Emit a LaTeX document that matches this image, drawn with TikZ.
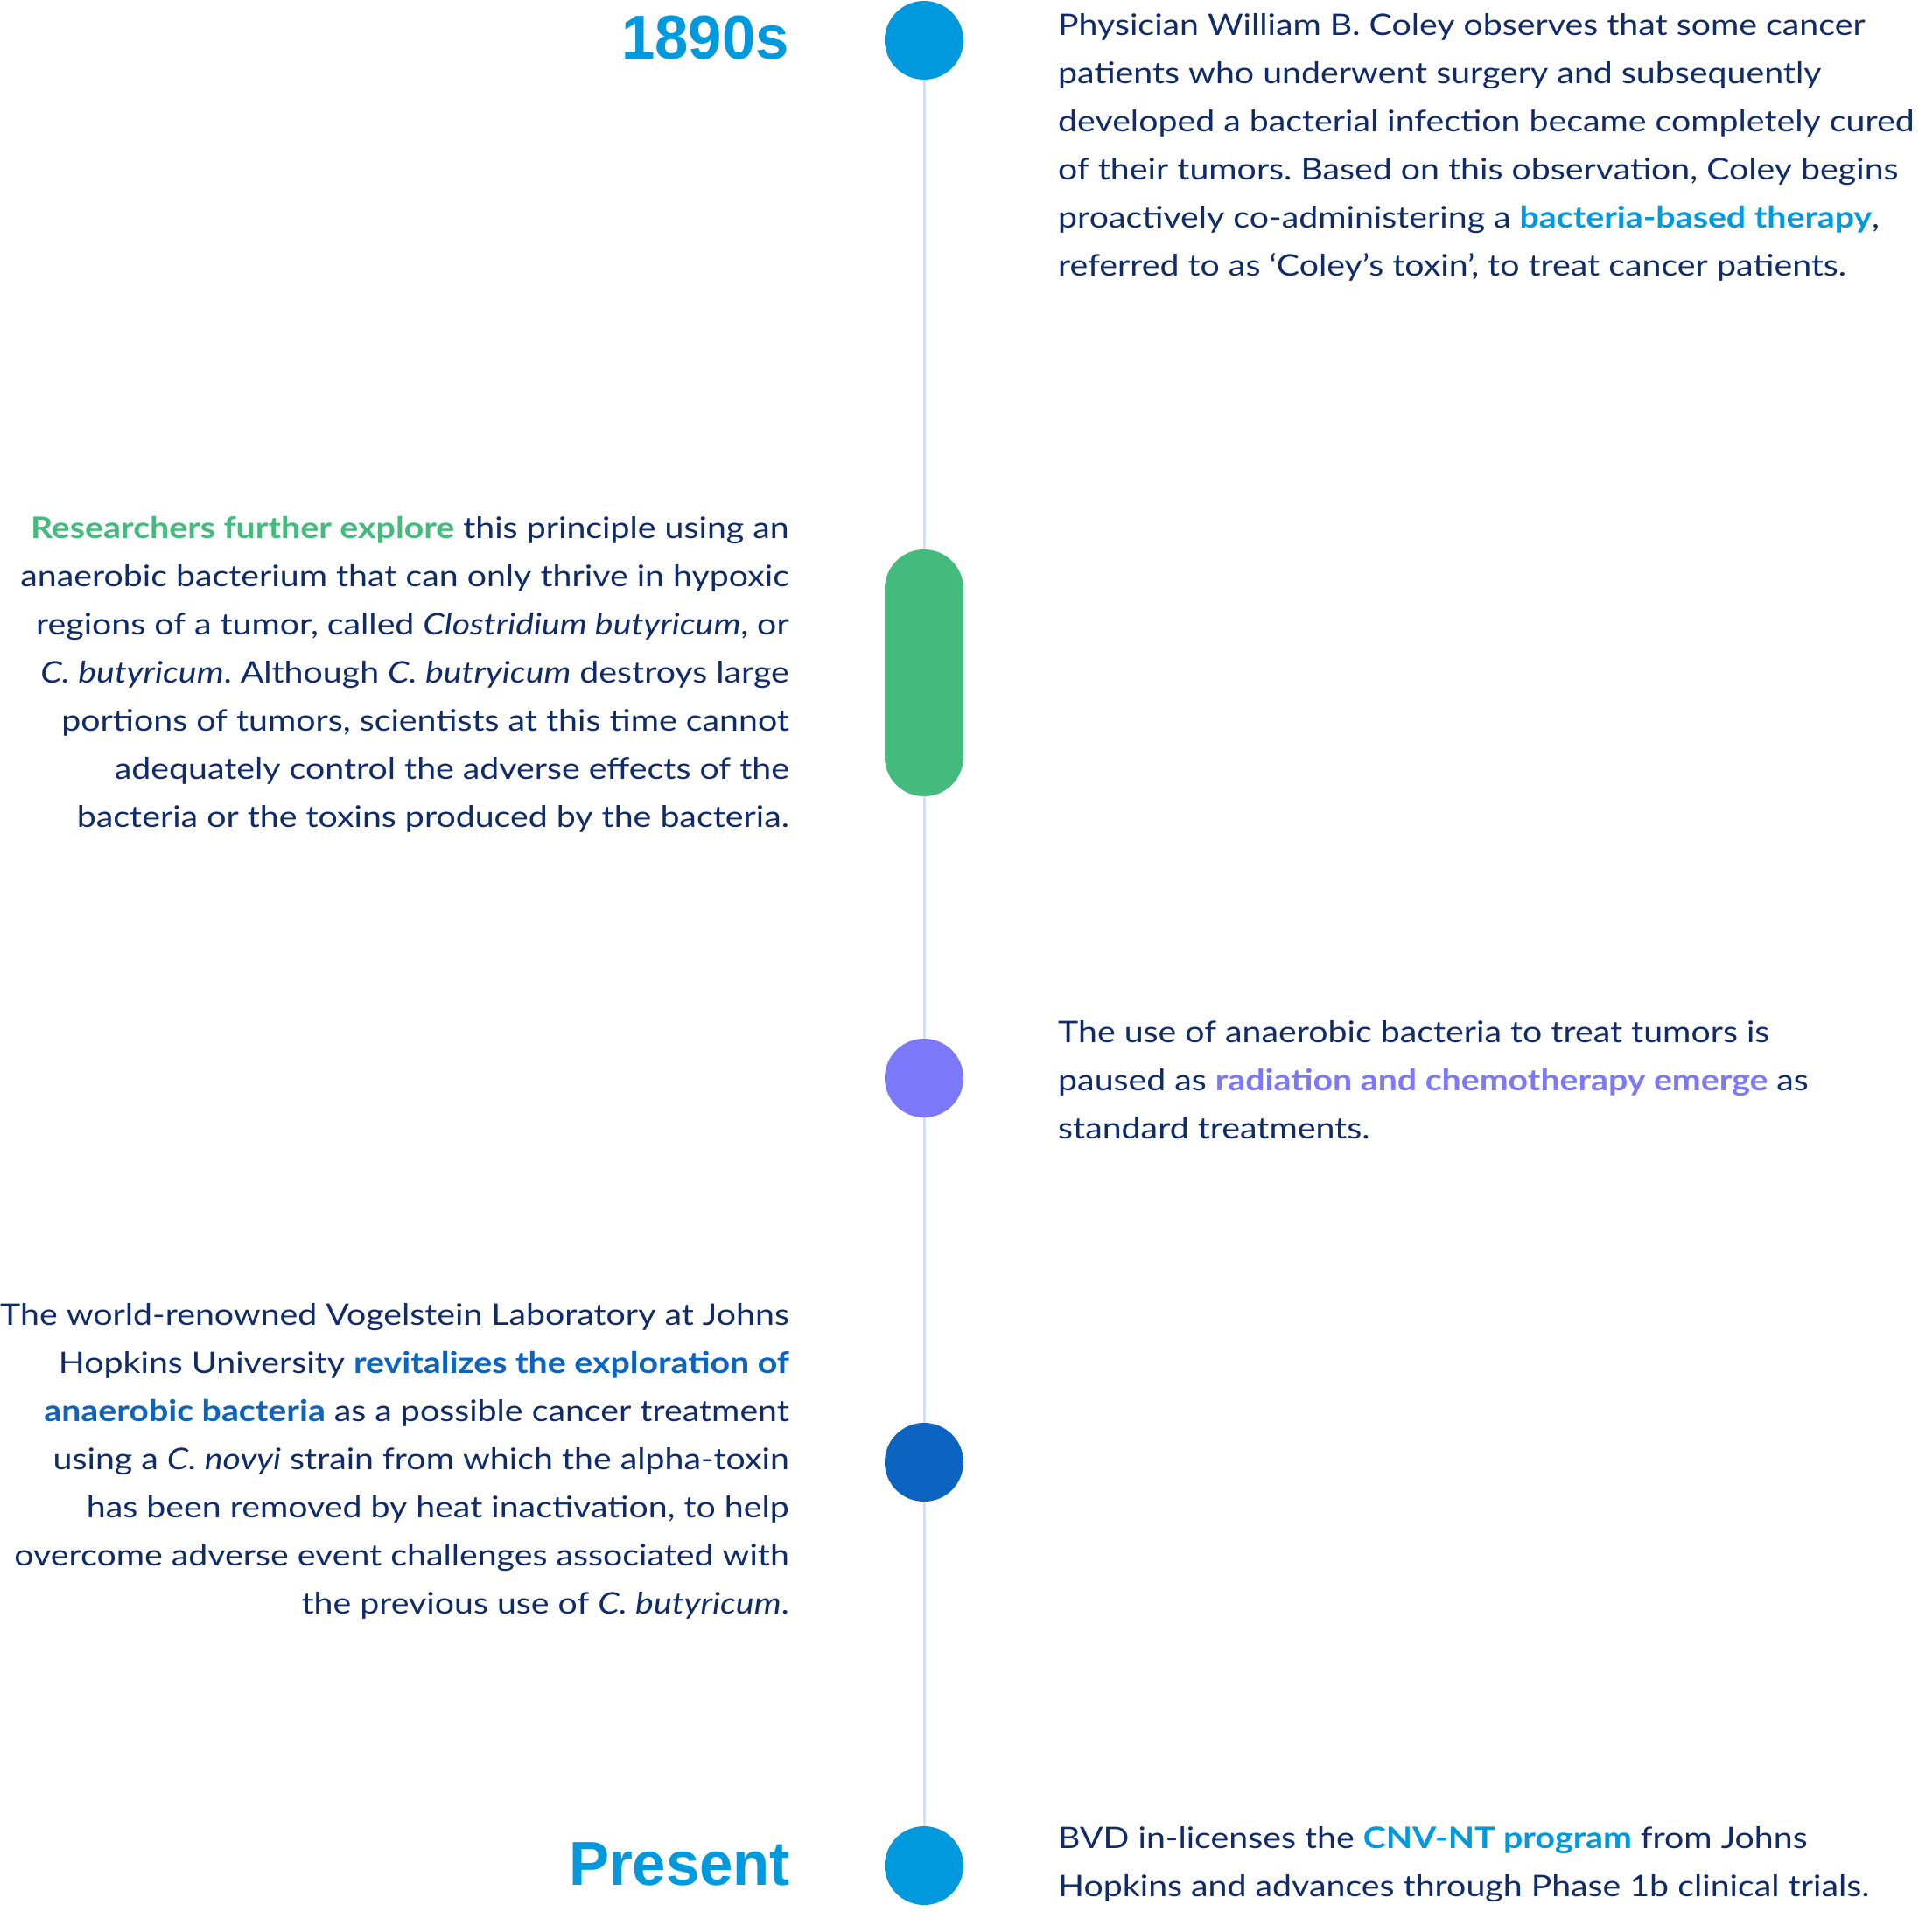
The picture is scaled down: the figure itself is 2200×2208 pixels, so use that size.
\documentclass[tikz,border=0pt]{standalone}
\usepackage{fontspec}
\setmainfont[FakeStretch=1.155]{Lato}
\newfontfamily\headfont[FakeStretch=0.97]{Liberation Sans}
\usetikzlibrary{backgrounds}
\definecolor{navy}{HTML}{0F2B6B}
\definecolor{tblue}{HTML}{0099DD}
\definecolor{tgreen}{HTML}{44BB7C}
\definecolor{tpurple}{HTML}{7B78FA}
\definecolor{tdblue}{HTML}{0C64C0}
\definecolor{tline}{HTML}{CFE1FA}
\frenchspacing
\newcommand\hlt[2]{{\color{#1}\bfseries #2}}
\newcommand\leftlines[1]{\vtop{\baselineskip=55pt\lineskiplimit=-200pt\lineskip=0pt\halign{##\hfil\cr#1\crcr}}}
\newcommand\rightlines[1]{\vtop{\baselineskip=55pt\lineskiplimit=-200pt\lineskip=0pt\halign{\hfil##\cr#1\crcr}}}
\tikzset{
  dot/.style={circle,fill=#1,draw=none,minimum size=90pt,inner sep=0pt},
  pill/.style={rectangle,fill=#1,draw=none,minimum width=90pt,minimum height=282pt,rounded corners=45pt,inner sep=0pt},
  body/.style={inner sep=0pt,text=navy,font=\frenchspacing\fontsize{34pt}{55pt}\selectfont},
  head/.style={inner sep=0pt,text=tblue,font=\headfont\bfseries\fontsize{71pt}{80pt}\selectfont,anchor=base east},
  spine/.style={draw=tline,line width=3pt}
}
\begin{document}
\begin{tikzpicture}[x=1pt,y=-1pt]
\useasboundingbox (0,0) rectangle (2200,2208);
\node[dot=tblue] (c1) at (1056,46) {};
\node[pill=tgreen] (c2) at (1056,769) {};
\node[dot=tpurple] (c3) at (1056,1232) {};
\node[dot=tdblue] (c4) at (1056,1671) {};
\node[dot=tblue] (c5) at (1056,2132) {};
\begin{pgfonlayer}{background}
\draw[spine] (c1.center) -- (c5.center);
\end{pgfonlayer}
\node[head] (h1) at (902,67) {1890s};
\node[head] (h5) at (903,2154) {Present};
\node[body,anchor=base west] (t1) at (1209,41) {\leftlines{%
Physician William B. Coley observes that some cancer\cr
patients who underwent surgery and subsequently\cr
developed a bacterial infection became completely cured\cr
of their tumors. Based on this observation, Coley begins\cr
proactively co-administering a \hlt{tblue}{bacteria-based therapy},\cr
referred to as ‘Coley’s toxin’, to treat cancer patients.}};
\node[body,anchor=base east] (t2) at (902,615) {\rightlines{%
\hlt{tgreen}{Researchers further explore} this principle using an\cr
anaerobic bacterium that can only thrive in hypoxic\cr
regions of a tumor, called \textit{Clostridium butyricum}, or\cr
\textit{C. butyricum}. Although \textit{C. butryicum} destroys large\cr
portions of tumors, scientists at this time cannot\cr
adequately control the adverse effects of the\cr
bacteria or the toxins produced by the bacteria.}};
\node[body,anchor=base west] (t3) at (1209,1191) {\leftlines{%
The use of anaerobic bacteria to treat tumors is\cr
paused as \hlt{tpurple}{radiation and chemotherapy emerge} as\cr
standard treatments.}};
\node[body,anchor=base east] (t4) at (902,1514) {\rightlines{%
The world-renowned Vogelstein Laboratory at Johns\cr
Hopkins University \hlt{tdblue}{revitalizes the exploration of}\cr
\hlt{tdblue}{anaerobic bacteria} as a possible cancer treatment\cr
using a \textit{C. novyi} strain from which the alpha-toxin\cr
has been removed by heat inactivation, to help\cr
overcome adverse event challenges associated with\cr
the previous use of \textit{C. butyricum}.}};
\node[body,anchor=base west] (t5) at (1209,2112) {\leftlines{%
BVD in-licenses the \hlt{tblue}{CNV-NT program} from Johns\cr
Hopkins and advances through Phase 1b clinical trials.}};
\end{tikzpicture}
\end{document}
